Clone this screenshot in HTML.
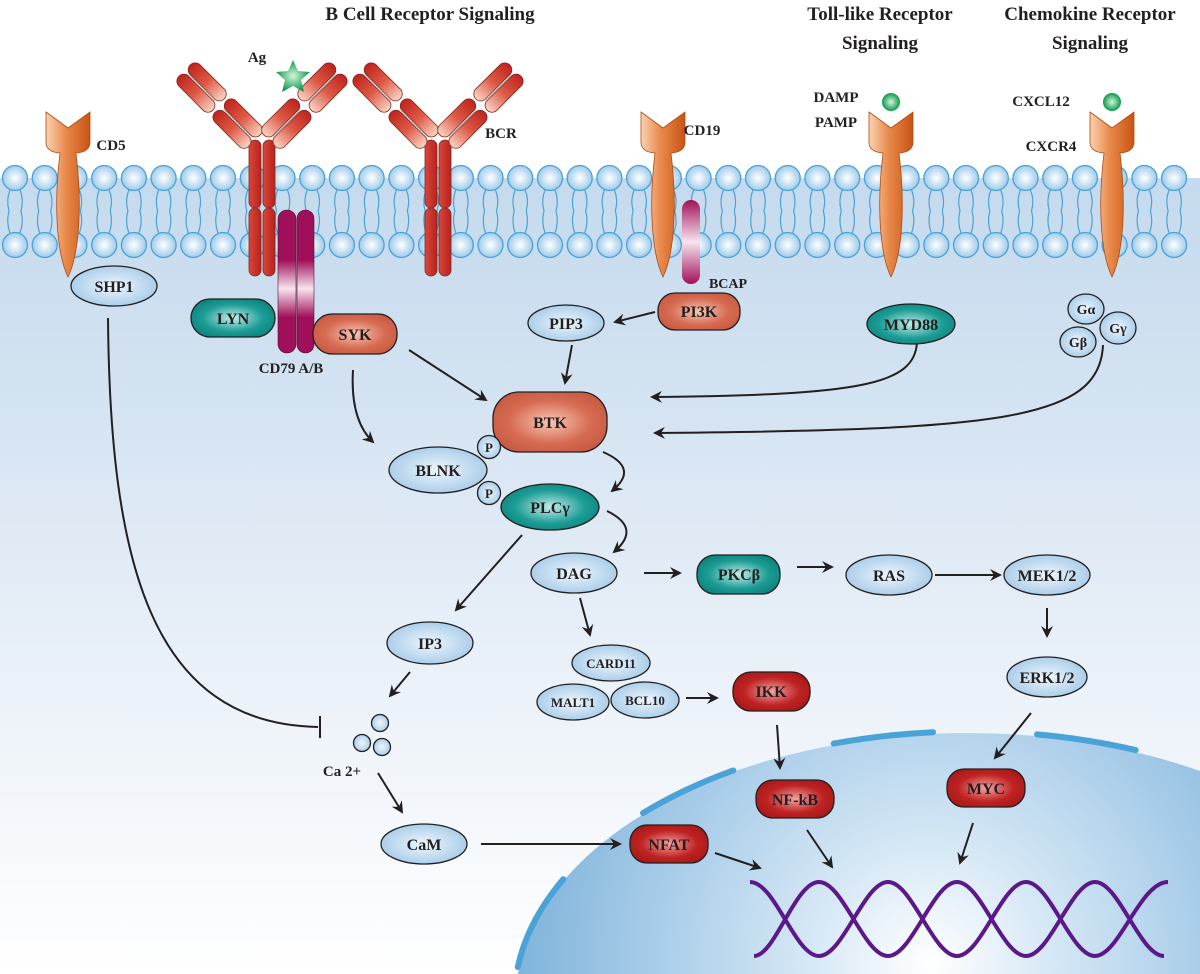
<!DOCTYPE html>
<html><head><meta charset="utf-8">
<style>
html,body{margin:0;padding:0;background:#fff;width:1200px;height:974px;overflow:hidden;}
svg{display:block;}
text{font-family:"Liberation Serif",serif;font-weight:bold;fill:#231f20;}
</style></head>
<body>
<svg width="1200" height="974" viewBox="0 0 1200 974" xmlns="http://www.w3.org/2000/svg">
<defs>
<linearGradient id="bg" x1="0" y1="0" x2="0" y2="1">
 <stop offset="0" stop-color="#c5daee"/>
 <stop offset="0.2" stop-color="#cfe0f0"/>
 <stop offset="0.55" stop-color="#e6eef7"/>
 <stop offset="1" stop-color="#ffffff"/>
</linearGradient>
<radialGradient id="head" cx="0.5" cy="0.5" r="0.5">
 <stop offset="0" stop-color="#ffffff"/>
 <stop offset="1" stop-color="#9fcbea"/>
</radialGradient>
<radialGradient id="lb" cx="0.5" cy="0.5" r="0.6">
 <stop offset="0" stop-color="#eef6fc"/>
 <stop offset="1" stop-color="#9ec6e6"/>
</radialGradient>
<radialGradient id="teal" cx="0.5" cy="0.5" r="0.6">
 <stop offset="0" stop-color="#c4ece8"/>
 <stop offset="0.6" stop-color="#1c9d95"/>
 <stop offset="1" stop-color="#0b7f78"/>
</radialGradient>
<radialGradient id="sal" cx="0.5" cy="0.5" r="0.6">
 <stop offset="0" stop-color="#f6c6b4"/>
 <stop offset="0.6" stop-color="#d66b52"/>
 <stop offset="1" stop-color="#c55840"/>
</radialGradient>
<radialGradient id="red" cx="0.5" cy="0.5" r="0.6">
 <stop offset="0" stop-color="#f4a2a2"/>
 <stop offset="0.6" stop-color="#bf2323"/>
 <stop offset="1" stop-color="#a61717"/>
</radialGradient>
<radialGradient id="grn" cx="0.5" cy="0.5" r="0.5">
 <stop offset="0" stop-color="#d6f5df"/>
 <stop offset="1" stop-color="#0a9a4a"/>
</radialGradient>
<linearGradient id="org" x1="0" y1="0" x2="1" y2="0">
 <stop offset="0" stop-color="#fad2b3"/>
 <stop offset="0.45" stop-color="#e8894a"/>
 <stop offset="1" stop-color="#c85414"/>
</linearGradient>
<linearGradient id="purp" x1="0" y1="0" x2="0" y2="1">
 <stop offset="0" stop-color="#a0105a"/>
 <stop offset="0.5" stop-color="#f8e4ee"/>
 <stop offset="1" stop-color="#a0105a"/>
</linearGradient>
<linearGradient id="purp2" x1="0" y1="0" x2="0" y2="1">
 <stop offset="0" stop-color="#a0105a"/>
 <stop offset="0.35" stop-color="#a0105a"/>
 <stop offset="0.55" stop-color="#f8e4ee"/>
 <stop offset="0.75" stop-color="#a0105a"/>
 <stop offset="1" stop-color="#a0105a"/>
</linearGradient>
<linearGradient id="rbar" x1="0" y1="0" x2="1" y2="0">
 <stop offset="0" stop-color="#d9473a"/>
 <stop offset="1" stop-color="#b8221c"/>
</linearGradient>
<linearGradient id="rarm" x1="0" y1="0" x2="1" y2="0">
 <stop offset="0" stop-color="#fbd5c5"/>
 <stop offset="0.5" stop-color="#dc5a46"/>
 <stop offset="1" stop-color="#c0221c"/>
</linearGradient>
<radialGradient id="nuc" gradientUnits="userSpaceOnUse" cx="930" cy="965" r="420">
 <stop offset="0" stop-color="#ffffff"/>
 <stop offset="0.3" stop-color="#d4e7f5"/>
 <stop offset="0.7" stop-color="#a3c9e7"/>
 <stop offset="1" stop-color="#7db3da"/>
</radialGradient>
<marker id="ah" viewBox="0 0 12 12" refX="10" refY="6" markerWidth="12" markerHeight="12" markerUnits="userSpaceOnUse" orient="auto">
 <path d="M0,0 L12,6 L0,12 L4,6 Z" fill="#231f20"/>
</marker>
<g id="lipid">
 <circle cx="0" cy="178" r="12.5" fill="url(#head)" stroke="#49a2d6" stroke-width="1.3"/>
 <circle cx="0" cy="245" r="12.5" fill="url(#head)" stroke="#49a2d6" stroke-width="1.3"/>
 <path d="M-5,190 Q-9,200 -6,211 Q-9,222 -5,233 M5,190 Q9,200 6,211 Q9,222 5,233" fill="none" stroke="#49a2d6" stroke-width="1.2"/>
</g>
<path id="rec" d="M-22,0 L0,16 L22,0 L22,30 Q22,40 8,41 C14,90 12,140 0,165 C-12,140 -14,90 -8,41 Q-22,40 -22,30 Z" fill="url(#org)" stroke="#b04a10" stroke-width="0.8"/>
<g id="arm">
 <rect x="2" y="-15" width="48" height="14" rx="7" fill="url(#rarm)" stroke="#7a2a22" stroke-width="0.8"/>
 <rect x="53" y="-15" width="48" height="14" rx="7" fill="url(#rarm)" stroke="#7a2a22" stroke-width="0.8"/>
 <rect x="2" y="1" width="48" height="14" rx="7" fill="url(#rarm)" stroke="#7a2a22" stroke-width="0.8"/>
 <rect x="53" y="1" width="48" height="14" rx="7" fill="url(#rarm)" stroke="#7a2a22" stroke-width="0.8"/>
</g>
<g id="stem">
 <rect x="-13" y="0" width="12" height="68" rx="6" fill="url(#rbar)" stroke="#7a2a22" stroke-width="0.8"/>
 <rect x="1" y="0" width="12" height="68" rx="6" fill="url(#rbar)" stroke="#7a2a22" stroke-width="0.8"/>
 <rect x="-13" y="68" width="12" height="68" rx="6" fill="url(#rbar)" stroke="#7a2a22" stroke-width="0.8"/>
 <rect x="1" y="68" width="12" height="68" rx="6" fill="url(#rbar)" stroke="#7a2a22" stroke-width="0.8"/>
</g>
</defs>

<rect x="0" y="0" width="1200" height="974" fill="#fff"/>
<rect x="0" y="178" width="1200" height="796" fill="url(#bg)"/>

<path d="M518,974 A452,267 0 0 1 1200,771 L1200,974 Z" fill="url(#nuc)"/>
<path d="M517,971 A455,270 0 0 1 1198,768" fill="none" stroke="#4aa3d6" stroke-width="6" stroke-linecap="round" stroke-dasharray="100 104" stroke-dashoffset="-4"/>

<g>
<use href="#lipid" x="15"/><use href="#lipid" x="44.7"/><use href="#lipid" x="74.4"/><use href="#lipid" x="104.2"/><use href="#lipid" x="133.9"/><use href="#lipid" x="163.6"/><use href="#lipid" x="193.3"/><use href="#lipid" x="223"/><use href="#lipid" x="252.8"/><use href="#lipid" x="282.5"/><use href="#lipid" x="312.2"/><use href="#lipid" x="341.9"/><use href="#lipid" x="371.6"/><use href="#lipid" x="401.4"/><use href="#lipid" x="431.1"/><use href="#lipid" x="460.8"/><use href="#lipid" x="490.5"/><use href="#lipid" x="520.2"/><use href="#lipid" x="550"/><use href="#lipid" x="579.7"/><use href="#lipid" x="609.4"/><use href="#lipid" x="639.1"/><use href="#lipid" x="668.8"/><use href="#lipid" x="698.6"/><use href="#lipid" x="728.3"/><use href="#lipid" x="758"/><use href="#lipid" x="787.7"/><use href="#lipid" x="817.4"/><use href="#lipid" x="847.2"/><use href="#lipid" x="876.9"/><use href="#lipid" x="906.6"/><use href="#lipid" x="936.3"/><use href="#lipid" x="966"/><use href="#lipid" x="995.8"/><use href="#lipid" x="1025.5"/><use href="#lipid" x="1055.2"/><use href="#lipid" x="1084.9"/><use href="#lipid" x="1114.6"/><use href="#lipid" x="1144.4"/><use href="#lipid" x="1174.1"/>
</g>

<text x="430" y="20" font-size="19" text-anchor="middle">B Cell Receptor Signaling</text>
<text x="880" y="20" font-size="19" text-anchor="middle">Toll-like Receptor</text>
<text x="880" y="49" font-size="19" text-anchor="middle">Signaling</text>
<text x="1090" y="20" font-size="19" text-anchor="middle">Chemokine Receptor</text>
<text x="1090" y="49" font-size="19" text-anchor="middle">Signaling</text>

<use href="#rec" x="68" y="112"/>
<use href="#rec" x="663" y="112"/>
<use href="#rec" x="891" y="112"/>
<use href="#rec" x="1112" y="112"/>
<circle cx="891" cy="102" r="9" fill="url(#grn)"/>
<circle cx="1112" cy="102" r="9" fill="url(#grn)"/>

<rect x="682" y="200" width="18" height="84" rx="9" fill="url(#purp)"/>
<text x="728" y="288" font-size="14" text-anchor="middle">BCAP</text>

<use href="#stem" x="262" y="140"/>
<use href="#stem" x="438" y="140"/>
<use href="#arm" transform="translate(256,142) rotate(-135)"/>
<use href="#arm" transform="translate(268,142) rotate(-45)"/>
<use href="#arm" transform="translate(432,142) rotate(-135)"/>
<use href="#arm" transform="translate(444,142) rotate(-45)"/>
<polygon points="293,60 298,71 310,72 301,80 304,92 293,86 282,92 285,80 276,72 288,71" fill="url(#grn)"/>
<text x="257" y="62" font-size="15" text-anchor="middle">Ag</text>
<text x="501" y="138" font-size="15" text-anchor="middle">BCR</text>

<rect x="278" y="210" width="18" height="143" rx="9" fill="url(#purp2)" stroke="#5a0a30" stroke-width="0.6"/>
<rect x="297" y="210" width="17" height="143" rx="8.5" fill="url(#purp2)" stroke="#5a0a30" stroke-width="0.6"/>
<text x="291" y="373" font-size="15" text-anchor="middle">CD79 A/B</text>

<text x="111" y="150" font-size="15" text-anchor="middle">CD5</text>
<text x="702" y="135" font-size="15" text-anchor="middle">CD19</text>
<text x="836" y="102" font-size="15" text-anchor="middle">DAMP</text>
<text x="836" y="127" font-size="15" text-anchor="middle">PAMP</text>
<text x="1041" y="106" font-size="15" text-anchor="middle">CXCL12</text>
<text x="1051" y="151" font-size="15" text-anchor="middle">CXCR4</text>

<g fill="none" stroke="#231f20" stroke-width="2">
 <path d="M108,318 C110,560 150,724 318,727"/>
 <path d="M320,716 L320,738"/>
 <path d="M409,350 L486,400" marker-end="url(#ah)"/>
 <path d="M353,370 Q350,420 373,442" marker-end="url(#ah)"/>
 <path d="M655,312 L615,322" marker-end="url(#ah)"/>
 <path d="M572,345 L565,383" marker-end="url(#ah)"/>
 <path d="M917,342 C915,385 860,395 652,397" marker-end="url(#ah)"/>
 <path d="M1103,345 C1100,420 1000,430 655,433" marker-end="url(#ah)"/>
 <path d="M603,452 Q640,468 612,491" marker-end="url(#ah)"/>
 <path d="M607,511 Q642,528 614,552" marker-end="url(#ah)"/>
 <path d="M522,535 L456,610" marker-end="url(#ah)"/>
 <path d="M644,573 L680,573" marker-end="url(#ah)"/>
 <path d="M797,567 L832,567" marker-end="url(#ah)"/>
 <path d="M935,575 L1000,575" marker-end="url(#ah)"/>
 <path d="M1047,608 L1047,636" marker-end="url(#ah)"/>
 <path d="M580,598 L590,635" marker-end="url(#ah)"/>
 <path d="M686,698 L717,698" marker-end="url(#ah)"/>
 <path d="M410,672 L390,696" marker-end="url(#ah)"/>
 <path d="M378,773 L402,812" marker-end="url(#ah)"/>
 <path d="M481,844 L620,844" marker-end="url(#ah)"/>
 <path d="M777,725 L780,768" marker-end="url(#ah)"/>
 <path d="M1031,713 L995,758" marker-end="url(#ah)"/>
 <path d="M715,853 L760,868" marker-end="url(#ah)"/>
 <path d="M807,830 L832,867" marker-end="url(#ah)"/>
 <path d="M973,823 L960,863" marker-end="url(#ah)"/>
</g>

<g fill="none" stroke="#5b1888" stroke-width="4">
 <path d="M750,882 C775,882 795,956 819,956 C843,956 864,882 888,882 C912,882 933,956 957,956 C981,956 1002,882 1026,882 C1050,882 1071,956 1095,956 C1119,956 1140,882 1168,882"/>
 <path d="M754,956 C775,956 795,882 819,882 C843,882 864,956 888,956 C912,956 933,882 957,882 C981,882 1002,956 1026,956 C1050,956 1071,882 1095,882 C1119,882 1140,956 1164,956"/>
</g>

<g stroke="#231f20" stroke-width="1.3">
 <ellipse cx="114" cy="286" rx="43" ry="20" fill="url(#lb)"/>
 <rect x="191" y="299" width="84" height="38" rx="19" fill="url(#teal)"/>
 <rect x="313" y="314" width="84" height="40" rx="19" fill="url(#sal)"/>
 <ellipse cx="566" cy="323" rx="38" ry="18" fill="url(#lb)"/>
 <rect x="658" y="293" width="82" height="37" rx="17" fill="url(#sal)"/>
 <ellipse cx="911" cy="324" rx="44" ry="20" fill="url(#teal)"/>
 <ellipse cx="1086" cy="309" rx="18" ry="15" fill="url(#lb)"/>
 <ellipse cx="1118" cy="328" rx="18" ry="16" fill="url(#lb)"/>
 <ellipse cx="1078" cy="342" rx="18" ry="15" fill="url(#lb)"/>
 <rect x="493" y="392" width="114" height="60" rx="26" fill="url(#sal)"/>
 <ellipse cx="438" cy="470" rx="49" ry="23" fill="url(#lb)"/>
 <ellipse cx="550" cy="507" rx="49" ry="23" fill="url(#teal)"/>
 <circle cx="489" cy="447" r="11.5" fill="url(#lb)"/>
 <circle cx="489" cy="493" r="11.5" fill="url(#lb)"/>
 <ellipse cx="574" cy="573" rx="43" ry="20" fill="url(#lb)"/>
 <rect x="697" y="555" width="83" height="39" rx="18" fill="url(#teal)"/>
 <ellipse cx="889" cy="575" rx="43" ry="20" fill="url(#lb)"/>
 <ellipse cx="1047" cy="575" rx="43" ry="20" fill="url(#lb)"/>
 <ellipse cx="1047" cy="677" rx="40" ry="20" fill="url(#lb)"/>
 <ellipse cx="430" cy="643" rx="43" ry="21" fill="url(#lb)"/>
 <ellipse cx="611" cy="663" rx="39" ry="18" fill="url(#lb)"/>
 <ellipse cx="573" cy="702" rx="36" ry="18" fill="url(#lb)"/>
 <ellipse cx="645" cy="700" rx="34" ry="18" fill="url(#lb)"/>
 <rect x="733" y="672" width="77" height="39" rx="18" fill="url(#red)"/>
 <circle cx="380" cy="723" r="8.5" fill="url(#lb)"/>
 <circle cx="362" cy="743" r="8.5" fill="url(#lb)"/>
 <circle cx="382" cy="747" r="8.5" fill="url(#lb)"/>
 <ellipse cx="424" cy="844" rx="43" ry="20" fill="url(#lb)"/>
 <rect x="756" y="780" width="78" height="38" rx="17" fill="url(#red)"/>
 <rect x="947" y="769" width="78" height="38" rx="17" fill="url(#red)"/>
 <rect x="630" y="825" width="78" height="38" rx="17" fill="url(#red)"/>
</g>

<g font-size="16" text-anchor="middle">
 <text x="114" y="292">SHP1</text>
 <text x="233" y="324">LYN</text>
 <text x="355" y="340">SYK</text>
 <text x="566" y="329">PIP3</text>
 <text x="699" y="317">PI3K</text>
 <text x="911" y="330">MYD88</text>
 <text x="1086" y="314" font-size="14">Gα</text>
 <text x="1118" y="333" font-size="14">Gγ</text>
 <text x="1078" y="347" font-size="14">Gβ</text>
 <text x="550" y="428">BTK</text>
 <text x="438" y="476">BLNK</text>
 <text x="550" y="513">PLCγ</text>
 <text x="489" y="452" font-size="13">P</text>
 <text x="489" y="498" font-size="13">P</text>
 <text x="574" y="579">DAG</text>
 <text x="739" y="580">PKCβ</text>
 <text x="889" y="581">RAS</text>
 <text x="1047" y="581">MEK1/2</text>
 <text x="1047" y="683">ERK1/2</text>
 <text x="430" y="649">IP3</text>
 <text x="611" y="668" font-size="13">CARD11</text>
 <text x="573" y="707" font-size="13">MALT1</text>
 <text x="645" y="705" font-size="13">BCL10</text>
 <text x="771" y="697">IKK</text>
 <text x="342" y="776" font-size="15">Ca 2+</text>
 <text x="424" y="850">CaM</text>
 <text x="795" y="805">NF-kB</text>
 <text x="986" y="794">MYC</text>
 <text x="669" y="850">NFAT</text>
</g>
</svg>
</body></html>
